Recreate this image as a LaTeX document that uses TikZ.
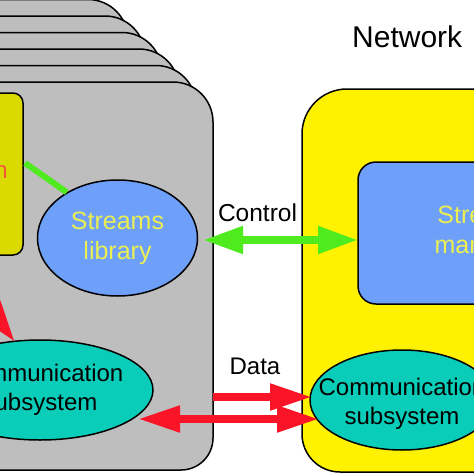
\documentclass[tikz,border=0pt]{standalone}
\usepackage{fontspec}
\setmainfont{Liberation Sans}
\usetikzlibrary{arrows.meta,shapes.geometric}
\definecolor{cardgray}{RGB}{190,190,190}
\definecolor{olive}{RGB}{218,218,0}
\definecolor{blobblue}{RGB}{110,160,250}
\definecolor{txtyellow}{RGB}{235,240,80}
\definecolor{teal2}{RGB}{10,205,185}
\definecolor{arrgreen}{RGB}{80,235,30}
\definecolor{arrred}{RGB}{250,20,40}
\definecolor{apptxt}{RGB}{240,90,60}
\tikzset{
  outline/.style={draw=black, line width=1.5pt},
  card/.style={outline, fill=cardgray},
  bigfont/.style={font=\fontsize{25}{30}\selectfont},
  greenarrow/.style={draw=arrgreen, line width=8pt, {Triangle[length=40pt,width=26pt]}-{Triangle[length=40pt,width=26pt]}},
  redarrow/.style={draw=arrred, line width=8pt, -{Triangle[length=42pt,width=25pt]}},
  redarrow2/.style={draw=arrred, line width=8pt, {Triangle[length=42pt,width=25pt]}-{Triangle[length=42pt,width=25pt]}},
  ellshape/.style={ellipse, outline, inner sep=0pt}
}
\begin{document}
\begin{tikzpicture}[x=1pt, y=-1pt]
\useasboundingbox (0,0) rectangle (474,474);
\clip (0,0) rectangle (474,474);
% stacked cards, back to front
\foreach \k in {5,4,3,2,1,0} {
  \pgfmathsetmacro{\T}{82-16.5*\k}
  \pgfmathsetmacro{\R}{213-17*\k}
  \pgfmathsetmacro{\B}{470-16.5*\k}
  \draw[card] (-80,\T) [rounded corners=40pt] -- (\R,\T) [rounded corners=32pt] -- (\R,\B) [sharp corners] -- (-80,\B) -- cycle;
}
% left application box
\draw[outline, fill=olive, rounded corners=10pt] (-40,93) rectangle (23,255);
\node[bigfont, font=\fontsize{24}{29}\selectfont, text=apptxt, anchor=base east, inner sep=0pt] (app) at (8,178) {Application};
\coordinate (appedge) at (25,163);
% streams library
\node[ellshape, fill=blobblue, minimum width=160pt, minimum height=116pt] (lib) at (117.5,238) {};
\node[bigfont, text=txtyellow, align=center] (libtxt) at (lib.center) {Streams\\library};
\draw[draw=arrgreen, line width=6pt] (appedge) -- (lib.138);
% left comm subsystem
\node[ellshape, fill=teal2, minimum width=226pt, minimum height=100pt] (lcomm) at (40,390) {};
\node[bigfont, font=\fontsize{24}{29}\selectfont, align=center] (lcommtxt) at (lcomm.center) {Communication\\subsystem};
\coordinate (appout) at (-25,290);
\draw[redarrow] (appout) -- (15,342);
% right network box
\draw[outline, fill=yellow] (560,89) [rounded corners=45pt] -- (302,89) [rounded corners=38pt] -- (302,472) [sharp corners] -- (560,472) -- cycle;
\node[font=\fontsize{30}{36}\selectfont, anchor=base west, inner sep=0pt] (net) at (352,47) {Network};
% streams manager
\draw[outline, fill=blobblue, rounded corners=18pt] (358,162) rectangle (620,304);
\coordinate (mgr) at (358,240);
\node[bigfont, text=txtyellow, align=center] (mgrtxt) at (484,232) {Streams\\manager};
% right comm subsystem
\node[ellshape, fill=teal2, minimum width=184pt, minimum height=100pt] (rcomm) at (402,400) {};
\node[bigfont, font=\fontsize{24}{29}\selectfont, align=center] (rcommtxt) at (402,404) {Communication\\subsystem};
% control arrow
\coordinate (ctlL) at (203,240);
\draw[greenarrow] (ctlL) -- (mgr);
\node[font=\fontsize{24.5}{29}\selectfont, anchor=base, inner sep=0pt] (ctl) at (257.5,221) {Control};
% data arrows
\coordinate (d1L) at (213,397);
\coordinate (d1R) at (312,397);
\coordinate (d2L) at (138,419);
\coordinate (d2R) at (319,419);
\draw[redarrow] (d1L) -- (d1R);
\draw[redarrow2] (d2L) -- (d2R);
\node[font=\fontsize{24}{29}\selectfont, anchor=base, inner sep=0pt] (data) at (255,374) {Data};
\end{tikzpicture}
\end{document}
